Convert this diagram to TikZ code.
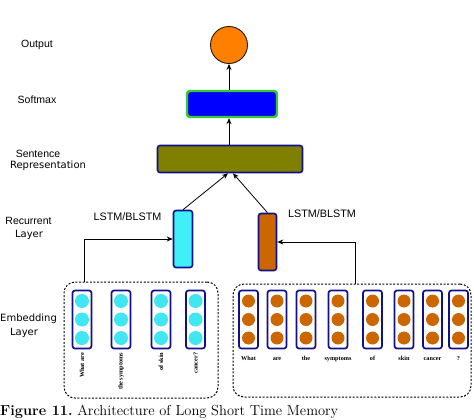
\documentclass[tikz,border=0pt]{standalone}
\usepackage{fontspec}
\usetikzlibrary{arrows.meta,calc}
\newfontfamily\arialf{Liberation Sans}
\newfontfamily\dejavuf{DejaVu Sans}
\newfontfamily\tnrf{Liberation Serif}
\definecolor{navyb}{HTML}{10108A}
\definecolor{cyanf}{HTML}{40F0F8}
\definecolor{cyand}{HTML}{40E6F0}
\definecolor{olivef}{HTML}{808000}
\definecolor{orangef}{HTML}{FF8000}
\definecolor{brownf}{HTML}{CC6600}
\definecolor{greenb}{HTML}{33CC33}
\tikzset{
  arr/.style={draw=black, line width=0.8pt, -{Stealth[length=6pt,width=5pt]}},
  lbl/.style={font=\arialf\fontsize{10.5}{12}\selectfont, inner sep=0pt},
  lbld/.style={font=\dejavuf\fontsize{10}{12}\selectfont, inner sep=0pt},
  vecbox/.style={draw=navyb, line width=1.7pt, rounded corners=2.5pt, fill=white, minimum width=19, minimum height=58, inner sep=0pt},
  dotc/.style={circle, fill=cyand, minimum size=14, inner sep=0pt},
  doto/.style={circle, fill=brownf, minimum size=13, inner sep=0pt},
  wordv/.style={font=\tnrf\bfseries\fontsize{6.3}{7}\selectfont, rotate=90, anchor=east, inner sep=0pt},
  wordh/.style={font=\tnrf\bfseries\fontsize{6.2}{7}\selectfont, anchor=base, inner sep=0pt},
  dashbox/.style={draw=black, line width=1pt, dash pattern=on 2pt off 1.6pt, rounded corners=11pt, inner sep=0pt},
  layerbox/.style={draw=navyb, line width=1.6pt, rounded corners=2.5pt, inner sep=0pt},
}
\begin{document}
\begin{tikzpicture}[x=1pt,y=-1pt]
\useasboundingbox (0,0) rectangle (474,420);
\fill[white] (0,0) rectangle (474,420);

% left labels
\node[lbl] (tout) at (37,45) {Output};
\node[lbl] (tsm) at (37,100) {Softmax};
\node[lbl] (tsen) at (38,154) {Sentence};
\node[lbld] (trep) at (48,166) {Representation};
\node[lbl] (trec) at (28.5,221) {Recurrent};
\node[lbld] (tlay1) at (29,235) {Layer};
\node[lbld, anchor=west] (temb) at (0,319) {Embedding};
\node[lbld] (tlay2) at (24,333) {Layer};

% main layers
\node[circle, draw=black!80!brown, line width=0.9pt, fill=orangef, minimum size=37, inner sep=0pt] (o) at (229,45) {};
\node[draw=greenb, line width=2.4pt, rounded corners=3pt, fill=blue, minimum width=90, minimum height=26, inner sep=0pt] (sm) at (232,104) {};
\node[layerbox, fill=olivef, minimum width=145, minimum height=27] (sr) at (230,159) {};
\node[layerbox, fill=cyanf, minimum width=19, minimum height=57] (l) at (183,239) {};
\node[layerbox, fill=brownf, minimum width=18, minimum height=57] (r) at (267.5,242) {};

\node[lbl, font=\arialf\fontsize{10.8}{12}\selectfont] (tl) at (127.5,217) {LSTM/BLSTM};
\node[lbl, font=\arialf\fontsize{10.8}{12}\selectfont] (tr) at (322,214) {LSTM/BLSTM};

% arrows
\draw[arr] (sm.north -| o.south) -- (o.south);
\draw[arr] (sr.north -| o.south) -- (sm.south -| o.south);
\draw[arr] (l.north) -- ($(sr.south)+(-2,0)$);
\draw[arr] (r.north) -- ($(sr.south)+(3,0)$);

% dashed boxes
\node[dashbox, minimum width=154, minimum height=116] (lb) at (141,340) {};
\node[dashbox, minimum width=238, minimum height=113] (rb) at (352,340.5) {};

\coordinate (lsrc) at (84,282);
\coordinate (rsrc) at (355,284);
\draw[arr] (lsrc) |- (l.west);
\draw[arr] (rsrc) |- (r.east);

% left embedding vectors
\foreach \i/\x/\w in {1/82/What are, 2/121/the symptoms, 3/161/of skin, 4/195.5/cancer?}{
  \node[vecbox] (lv\i) at (\x,319.5) {};
  \node[dotc] (lv\i a) at (\x,301) {};
  \node[dotc] (lv\i b) at (\x,319.5) {};
  \node[dotc] (lv\i c) at (\x,338) {};
  \node[wordv] (lw\i) at (\x,352.5) {\w};
}

% right embedding vectors
\foreach \i/\x/\w in {1/248.5/What, 2/277/are, 3/306/the, 4/338/symptoms, 5/372.5/of, 6/404/skin, 7/432.5/cancer, 8/458.5/?}{
  \node[vecbox] (rv\i) at (\x,319.5) {};
  \node[doto] (rv\i a) at (\x,301) {};
  \node[doto] (rv\i b) at (\x,319.5) {};
  \node[doto] (rv\i c) at (\x,338) {};
  \node[wordh] (rw\i) at (\x,360) {\w};
}

% caption
\node[anchor=base west, inner sep=0pt, font=\rmfamily\fontsize{14.5}{16}\selectfont] (cap) at (0,415.5) {\textbf{Figure 11.}\ Architecture of Long Short Time Memory};
\end{tikzpicture}
\end{document}
